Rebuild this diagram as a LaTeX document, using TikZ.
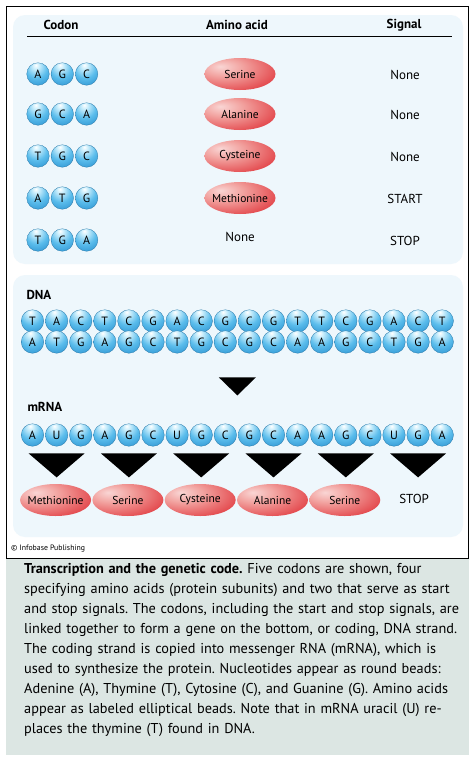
\documentclass[tikz,border=0pt]{standalone}
\usepackage{fontspec}
\setmainfont{PT Sans}
\usetikzlibrary{shapes.geometric,calc,positioning}
\usepackage{xcolor}
\definecolor{beadBlue}{HTML}{5BBDEC}
\definecolor{beadDeep}{HTML}{2F95D2}
\definecolor{beadLight}{HTML}{CDEFFC}
\definecolor{pillRed}{HTML}{DC1C24}
\definecolor{pillPink}{HTML}{F2A3A0}
\definecolor{panelBlue}{HTML}{EEF7FC}
\definecolor{captionGrey}{HTML}{DCE6E3}

\pgfdeclareradialshading{beadshade}{\pgfpoint{-5bp}{20bp}}{color(0bp)=(white); color(7bp)=(beadLight); color(24bp)=(beadBlue); color(42bp)=(beadDeep); color(100bp)=(beadDeep)}
\pgfdeclareradialshading{pillshade}{\pgfpoint{-14bp}{12bp}}{color(0bp)=(pillPink!45!white); color(14bp)=(pillPink); color(36bp)=(pillRed!65!pillPink); color(52bp)=(pillRed); color(100bp)=(pillRed)}

\begin{document}
\frenchspacing
\begin{tikzpicture}[x=1pt,y=-1pt]
\tikzstyle{bead}=[circle,shading=beadshade,draw=beadDeep!80!black,line width=.3pt,minimum size=22.5pt,inner sep=0pt,font=\fontsize{12}{12}\selectfont]
\tikzstyle{amino}=[ellipse,shading=pillshade,minimum width=71pt,minimum height=32pt,inner xsep=-8pt,inner ysep=0pt,font=\fontsize{11.5}{12}\selectfont]
\tikzstyle{head}=[font=\fontsize{13}{14}\selectfont\bfseries]
\tikzstyle{sig}=[font=\fontsize{13}{14}\selectfont]

\useasboundingbox (0,0) rectangle (474,761);
\fill[white] (0,0) rectangle (474,761);
\fill[captionGrey] (6,558) rectangle (469,755);
\draw[line width=1pt] (6.5,6.5) rectangle (468.5,558);
\fill[panelBlue,rounded corners=12pt] (13,15) rectangle (463,264);
\fill[panelBlue,rounded corners=12pt] (13,275) rectangle (463,537);

% code table
\node[head] (codonhead) at (61,25) {Codon};
\node[head] (aminohead) at (237,25) {Amino acid};
\node[head] (signalhead) at (404,25) {Signal};
\draw[line width=.8pt] (27,36) -- (452,36);
\foreach \y/\a/\b/\c/\sig [count=\r] in {74/A/G/C/None,114/G/C/A/None,156/T/G/C/None,198/A/T/G/START,240/T/G/A/STOP}{
  \node[bead] (r\r a) at (38,\y) {\a};
  \node[bead,right=1.5pt of r\r a] (r\r b) {\b};
  \node[bead,right=1.5pt of r\r b] (r\r c) {\c};
  \node[sig] (r\r s) at (405,\y+1) {\sig};
}
\foreach \y/\acid [count=\r] in {74/Serine,114/Alanine,156/Cysteine,198/Methionine}
  \node[amino] (r\r p) at (240,\y) {\acid};
\node[sig] (r5p) at (240,237) {None};

% DNA
\node[head,anchor=west] (dnalabel) at (23,295) {DNA};
\foreach \n [count=\i from 0] in {T,A,C,T,C,G,A,C,G,C,G,T,T,C,G,A,C,T}
  \node[bead] (dt\i) at ({32.5+24.1*\i},321) {\n};
\foreach \n [count=\i from 0] in {A,T,G,A,G,C,T,G,C,G,C,A,A,G,C,T,G,A}
  \node[bead] (db\i) at ({32.5+24.1*\i},342) {\n};
\coordinate (split) at ($(db8.south)!.5!(db9.south)$);
\fill ($(split)+(-18.5,24)$) -- ($(split)+(18.5,24)$) -- ($(split)+(0,42)$) -- cycle;

% mRNA
\node[head,anchor=west] (mrnalabel) at (24,407) {mRNA};
\foreach \n [count=\i from 0] in {A,U,G,A,G,C,U,G,C,G,C,A,A,G,C,U,G,A}
  \node[bead] (m\i) at ({32.5+24.1*\i},435) {\n};
\foreach \acid [count=\k from 0] in {Methionine,Serine,Cysteine,Alanine,Serine,STOP}{
  \pgfmathtruncatemacro\j{3*\k+1}
  \fill ($(m\j.south)+(-28,7)$) -- ($(m\j.south)+(28,7)$) -- ($(m\j.south)+(0,31)$) -- cycle;
  \ifnum\k<5
    \node[amino] (aa\k) at ($(m\j)+(-1,65)$) {\acid};
  \else
    \node[sig] (aa\k) at ($(m\j)+(-4,64)$) {\acid};
  \fi
}

\node[anchor=west,inner sep=0pt,font=\fontsize{7.8}{9}\selectfont] (credit) at (11,549) {© Infobase Publishing};

% caption
\node[anchor=north west,inner sep=0pt,text width=436pt,align=left,font=\fontsize{14.3}{20}\selectfont] (caption) at (24,563) {%
\makebox[436pt][s]{\textbf{Transcription and the genetic code.} Five codons are shown, four}\\
\makebox[436pt][s]{specifying amino acids (protein subunits) and two that serve as start}\\
\makebox[436pt][s]{and stop signals. The codons, including the start and stop signals, are}\\
\makebox[436pt][s]{linked together to form a gene on the bottom, or coding, DNA strand.}\\
\makebox[436pt][s]{The coding strand is copied into messenger RNA (mRNA), which is}\\
\makebox[436pt][s]{used to synthesize the protein. Nucleotides appear as round beads:}\\
\makebox[436pt][s]{Adenine (A), Thymine (T), Cytosine (C), and Guanine (G). Amino acids}\\
\makebox[436pt][s]{appear as labeled elliptical beads. Note that in mRNA uracil (U) re-}\\
places the thymine (T) found in DNA.};
\end{tikzpicture}
\end{document}
